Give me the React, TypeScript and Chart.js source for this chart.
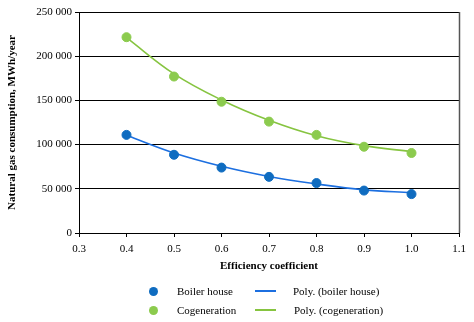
import React, { useEffect, useRef } from "react";
import { Chart, registerables } from "chart.js";

Chart.register(...registerables);

const efficiency = [0.4, 0.5, 0.6, 0.7, 0.8, 0.9, 1.0];
const boilerHouse = [111000, 88500, 74000, 63500, 56500, 48000, 44000];
const cogeneration = [221500, 177000, 148500, 126000, 111000, 97600, 90500];
const polyBoiler = [110500, 90500, 75500, 64000, 55500, 48800, 45600];
const polyCogen = [221000, 180000, 150500, 127500, 110000, 98800, 92000];

const BLUE_DOT = "#0F6CC0";
const BLUE_LINE = "#1C6FE0";
const GREEN_DOT = "#8CCB4E";
const GREEN_LINE = "#86C440";
const FONT = "'Liberation Serif', 'Times New Roman', serif";

const fmt = (v: number) => String(Math.round(v)).replace(/\B(?=(\d{3})+(?!\d))/g, " ");

const rightBorder = {
  id: "rightBorder",
  afterDraw(chart: any) {
    const { ctx, chartArea } = chart;
    ctx.save();
    ctx.strokeStyle = "#555";
    ctx.lineWidth = 1.5;
    ctx.beginPath();
    ctx.moveTo(Math.round(chartArea.right) + 0.5, chartArea.top);
    ctx.lineTo(Math.round(chartArea.right) + 0.5, chartArea.bottom);
    ctx.stroke();
    ctx.restore();
  },
};

export default function App() {
  const ref = useRef<HTMLCanvasElement>(null);
  useEffect(() => {
    if (!ref.current) return;
    const pts = (ys: number[]) => efficiency.map((x, i) => ({ x, y: ys[i] }));
    const chart = new Chart(ref.current, {
      type: "scatter",
      data: {
        datasets: [
          {
            label: "Boiler house",
            data: pts(boilerHouse),
            backgroundColor: BLUE_DOT,
            borderColor: BLUE_DOT,
            pointRadius: 4.5,
            showLine: false,
            order: 1,
          },
          {
            label: "Poly. (boiler house)",
            data: pts(polyBoiler),
            borderColor: BLUE_LINE,
            borderWidth: 1.6,
            pointRadius: 0,
            showLine: true,
            tension: 0.4,
            order: 2,
          },
          {
            label: "Cogeneration",
            data: pts(cogeneration),
            backgroundColor: GREEN_DOT,
            borderColor: GREEN_DOT,
            pointRadius: 4.5,
            showLine: false,
            order: 1,
          },
          {
            label: "Poly. (cogeneration)",
            data: pts(polyCogen),
            borderColor: GREEN_LINE,
            borderWidth: 1.6,
            pointRadius: 0,
            showLine: true,
            tension: 0.4,
            order: 2,
          },
        ],
      },
      options: {
        animation: false,
        responsive: false,
        maintainAspectRatio: false,
        layout: { padding: { left: 6, right: 15, top: 12, bottom: 49 } },
        plugins: { legend: { display: false }, tooltip: { enabled: false } },
        scales: {
          x: {
            type: "linear",
            min: 0.3,
            max: 1.1,
            ticks: {
              stepSize: 0.1,
              color: "#000",
              font: { family: FONT, size: 11 },
              padding: 6,
              maxRotation: 0,
              callback: (v: any) => Number(v).toFixed(1),
            },
            grid: { drawOnChartArea: false, drawTicks: true, tickLength: 4, color: "#000" },
            border: { color: "#000", width: 1 },
            title: {
              display: true,
              text: "Efficiency coefficient",
              color: "#000",
              font: { family: FONT, size: 11, weight: "bold" },
              padding: { top: 1, bottom: 0 },
            },
            afterFit: (s: any) => {
              s.height = 40;
            },
          },
          y: {
            min: 0,
            max: 250000,
            ticks: {
              stepSize: 50000,
              color: "#000",
              font: { family: FONT, size: 11 },
              padding: 3,
              callback: (v: any) => fmt(Number(v)),
            },
            grid: { drawOnChartArea: true, drawTicks: true, tickLength: 4, color: "#000", lineWidth: 1 },
            border: { color: "#000", width: 1 },
            title: {
              display: true,
              text: "Natural gas consumption, MWh/year",
              color: "#000",
              font: { family: FONT, size: 11, weight: "bold" },
              padding: { top: 0, bottom: 4 },
            },
            afterFit: (s: any) => {
              s.width = 73;
            },
          },
        },
      },
      plugins: [rightBorder],
    } as any);
    return () => chart.destroy();
  }, []);

  const textStyle: React.CSSProperties = {
    position: "absolute",
    fontFamily: FONT,
    fontSize: 11,
    color: "#000",
    lineHeight: "12px",
    whiteSpace: "nowrap",
  };
  const dot = (x: number, y: number, c: string) => (
    <div style={{ position: "absolute", left: x - 4.5, top: y - 4.5, width: 9, height: 9, borderRadius: "50%", background: c }} />
  );
  const line = (x: number, y: number, c: string) => (
    <div style={{ position: "absolute", left: x, top: y - 1, width: 21, height: 2, background: c }} />
  );

  return (
    <div style={{ position: "fixed", left: 0, top: 0, width: 474, height: 322, background: "#fff" }}>
      <canvas ref={ref} width={474} height={322} style={{ position: "absolute", left: 0, top: 0, width: 474, height: 322 }} />
      {dot(153, 291, BLUE_DOT)}
      <div style={{ ...textStyle, left: 177, top: 285 }}>Boiler house</div>
      {line(255, 291, BLUE_LINE)}
      <div style={{ ...textStyle, left: 293, top: 285 }}>Poly. (boiler house)</div>
      {dot(153, 310, GREEN_DOT)}
      <div style={{ ...textStyle, left: 177, top: 304 }}>Cogeneration</div>
      {line(255, 310, GREEN_LINE)}
      <div style={{ ...textStyle, left: 294, top: 304 }}>Poly. (cogeneration)</div>
    </div>
  );
}
